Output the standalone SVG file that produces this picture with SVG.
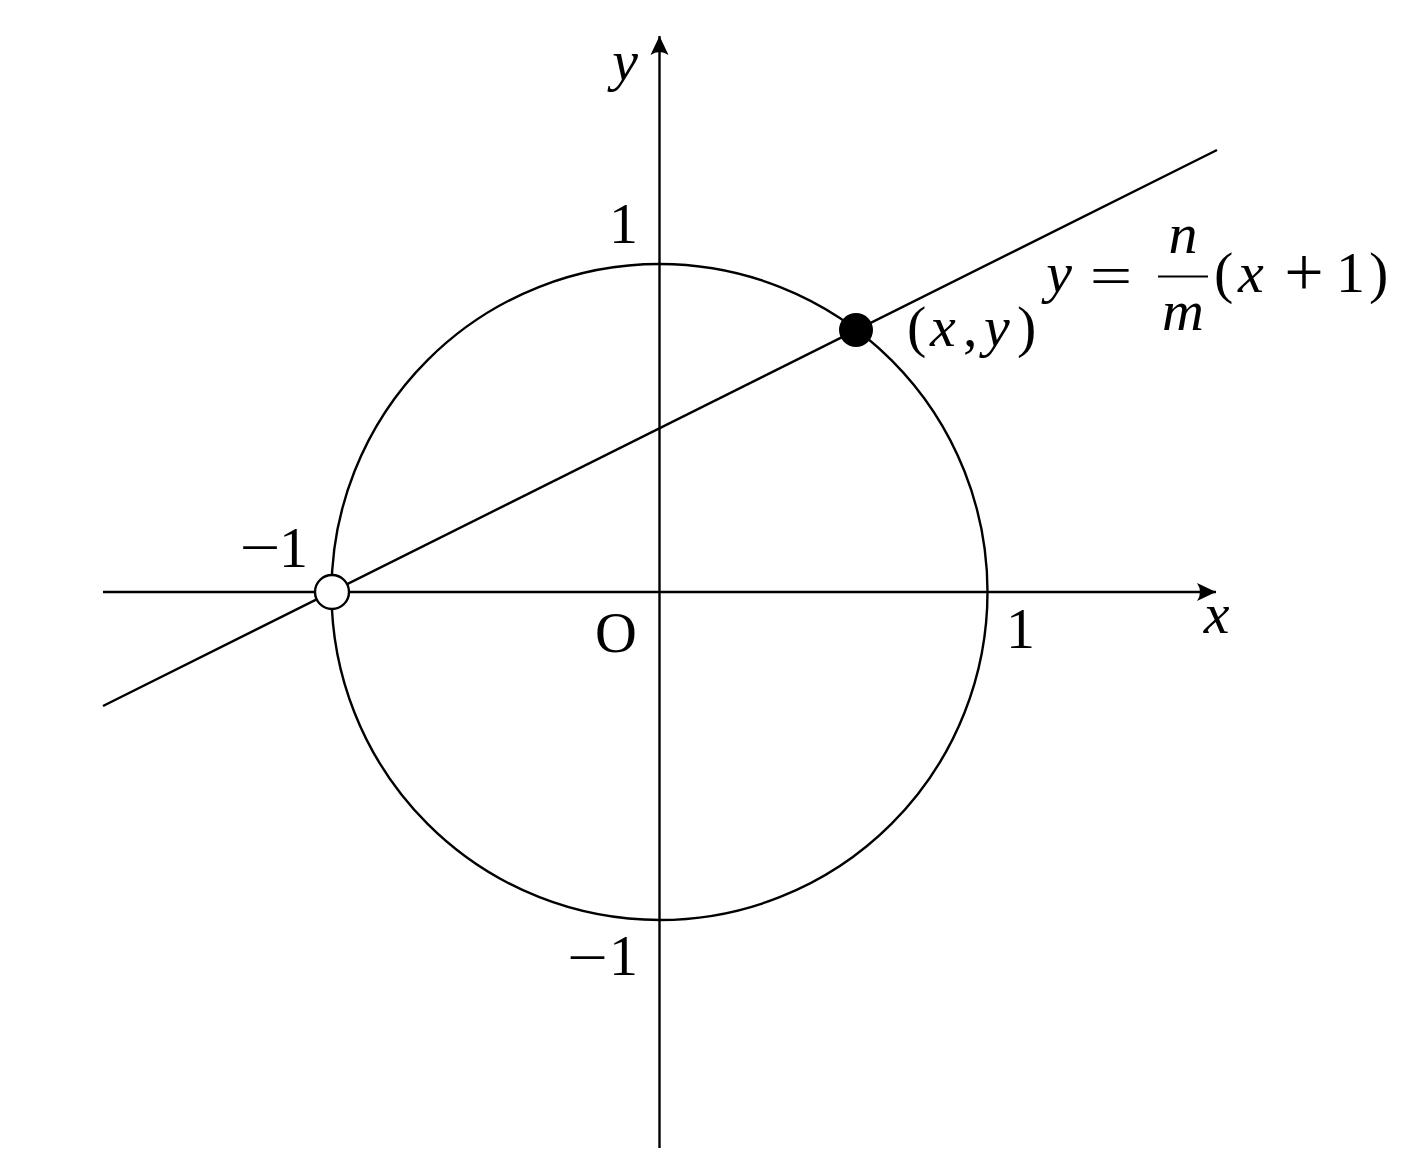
<svg xmlns="http://www.w3.org/2000/svg" width="1408" height="1167" viewBox="0 0 1408 1167">
<style>
.ln{fill:none;stroke:#000;stroke-width:2.4}
.t{font-family:"Liberation Serif","Times New Roman",serif;font-size:58px;fill:#000}
.i{font-style:italic}
.m{text-anchor:middle}
</style>
<defs>
<marker id="arr" markerUnits="userSpaceOnUse" markerWidth="24" markerHeight="24" viewBox="-20 -12 24 24" refX="0" refY="0" orient="auto">
<path d="M0,0 L-19,-9 Q-13,0 -19,9 Z" fill="#000"/>
</marker>
</defs>
<rect width="1408" height="1167" fill="#fff"/>
<g id="connectors">
<line id="x-axis" class="ln" x1="103" y1="592" x2="1216" y2="592" marker-end="url(#arr)"/>
<line id="y-axis" class="ln" x1="659.5" y1="1148" x2="659.5" y2="36" marker-end="url(#arr)"/>
<circle id="unit-circle" class="ln" cx="659.5" cy="592" r="328"/>
<line id="secant" class="ln" x1="103" y1="706" x2="1217" y2="150"/>
</g>
<g id="point-open"><circle cx="332" cy="592" r="17" fill="#fff" stroke="#000" stroke-width="2.4"/></g>
<g id="point-xy"><circle cx="856" cy="330" r="17" fill="#000"/></g>
<g id="labels">
<text class="t i m" x="625" y="80">y</text>
<text class="t i m" x="1216.5" y="633">x</text>
<text class="t" x="595" y="652">O</text>
<text class="t" x="609" y="243">1</text>
<text class="t" x="1006" y="648">1</text>
<text class="t m" transform="translate(260,567) scale(1.25,1)">−</text>
<text class="t" x="279" y="567">1</text>
<text class="t m" transform="translate(587.5,977) scale(1.25,1)">−</text>
<text class="t" x="609" y="975">1</text>
</g>
<g id="label-point">
<text class="t" y="346"><tspan x="907">(</tspan><tspan class="i" x="930">x</tspan><tspan x="963">,</tspan><tspan class="i" x="984">y</tspan><tspan x="1017">)</tspan></text>
</g>
<g id="label-equation">
<text class="t i m" x="1059" y="292">y</text>
<text class="t m" transform="translate(1111,295) scale(1.3,1)">=</text>
<text class="t i m" x="1183" y="253">n</text>
<line x1="1158" y1="276.5" x2="1208" y2="276.5" stroke="#000" stroke-width="2.2"/>
<text class="t i m" x="1183" y="330">m</text>
<text class="t" x="1214" y="292">(</text>
<text class="t i" x="1238" y="292">x</text>
<text class="t m" x="1304" y="296" style="font-size:70px">+</text>
<text class="t" x="1336" y="292">1</text>
<text class="t" x="1369" y="292">)</text>
</g>
</svg>
